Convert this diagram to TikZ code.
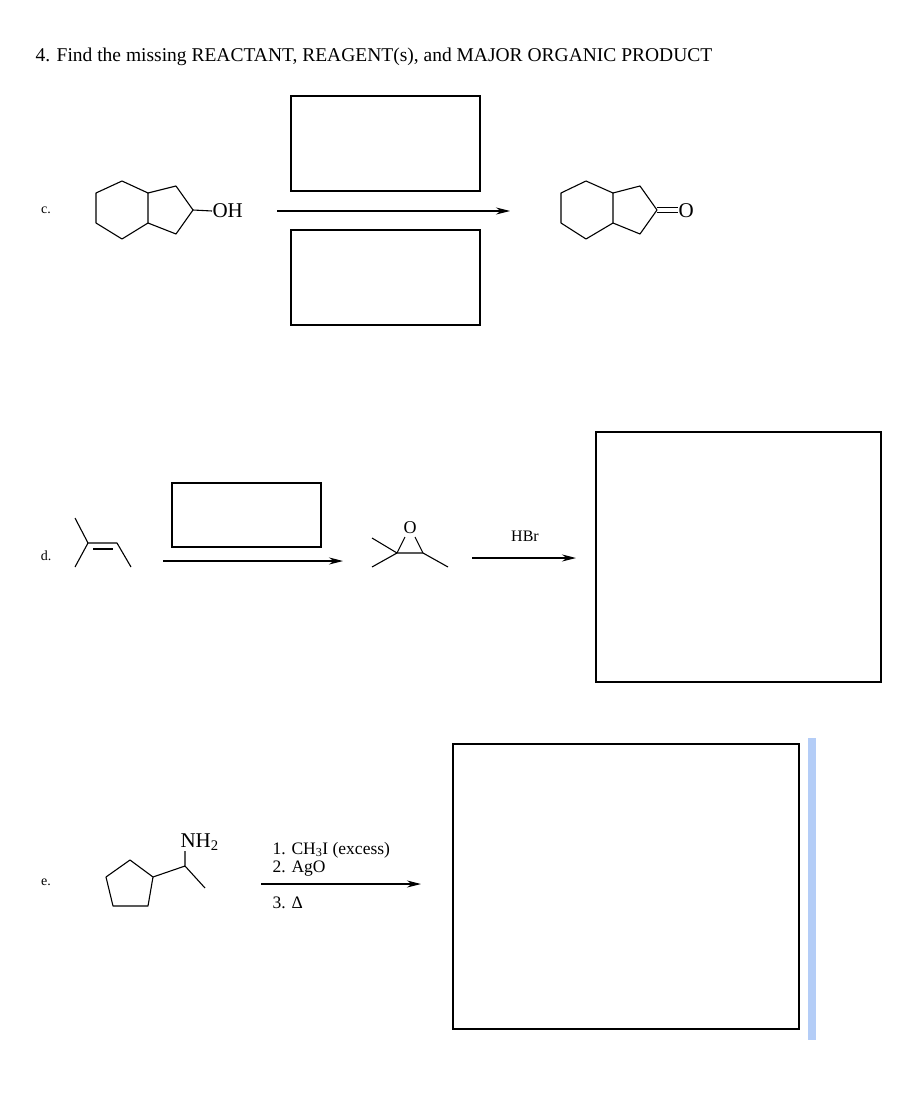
\documentclass[tikz,border=0pt]{standalone}
\usepackage{fontspec}
\setmainfont{Liberation Serif}
\usetikzlibrary{arrows.meta}
\begin{document}
\begin{tikzpicture}[x=1pt,y=-1pt,line width=1.1pt,
 bond/.style={line width=1.1pt,line join=round},
 rxn/.style={line width=1.1pt,-{Stealth[length=14pt,width=7pt]}},
 ansbox/.style={draw,line width=1.1pt},
 lab/.style={font=\fontsize{14}{16}\selectfont},
 atom/.style={font=\fontsize{21}{23}\selectfont,inner sep=0pt},
 reag/.style={font=\fontsize{17.5}{18}\selectfont,inner sep=0pt,anchor=west}]
\useasboundingbox (0,0) rectangle (910,1102);
\node[anchor=base west,inner sep=0pt,font=\fontsize{19.5}{22}\selectfont] (title) at (35,62) {4. Find the missing REACTANT, REAGENT(s), and MAJOR ORGANIC PRODUCT};
% c
\node[lab] (lc) at (46,210) {c.};
\draw[bond] (122,181)--(148,193)--(148,223)--(122,239)--(96,223)--(96,193)--cycle;
\draw[bond] (148,193)--(176,186)--(193,210)--(176,234)--(148,223);
\node[atom,anchor=west] (oh) at (212,211) {OH};
\draw[bond] (193,210)--(oh.west);
\node[ansbox,minimum width=189pt,minimum height=95pt] (bc1) at (385.5,143.5) {};
\node[ansbox,minimum width=189pt,minimum height=95pt] (bc2) at (385.5,277.5) {};
\coordinate (ac1) at (277,211); \coordinate (ac2) at (510,211);
\draw[rxn] (ac1)--(ac2);
\draw[bond] (586,181)--(613,193)--(613,223)--(586,239)--(561,223)--(561,193)--cycle;
\draw[bond] (613,193)--(640,186)--(657,210)--(640,234)--(613,223);
\node[atom,anchor=west] (o1) at (678,211) {O};
\draw[bond] (657,207.5)--(678,207.5) (657,212.5)--(678,212.5);
% d
\node[lab] (ld) at (46,556) {d.};
\draw[bond] (75,518)--(88,543)--(75,567) (88,543)--(117,543)--(131,567);
\draw[bond] (93,549)--(113,549);
\node[ansbox,minimum width=149pt,minimum height=64pt] (bd1) at (246.5,515) {};
\coordinate (ad1) at (163,561); \coordinate (ad2) at (343,561);
\draw[rxn] (ad1)--(ad2);
\node[atom,font=\fontsize{18}{20}\selectfont] (o2) at (410,528) {O};
\draw[bond] (372,538)--(397,553)--(372,567) (397,553)--(423,553)--(448,567);
\draw[bond] (397,553)--(405,537) (423,553)--(415,537);
\node[reag,anchor=center,font=\fontsize{16}{18}\selectfont] (hbr) at (525,536) {HBr};
\coordinate (ad3) at (472,558); \coordinate (ad4) at (576,558);
\draw[rxn] (ad3)--(ad4);
\node[ansbox,minimum width=285pt,minimum height=250pt] (bd2) at (738.5,557) {};
% e
\node[lab] (le) at (46,882) {e.};
\draw[bond] (130,860)--(153,877)--(148,906)--(113,906)--(106,877)--cycle;
\draw[bond] (153,877)--(185,866)--(205,888) (185,866)--(185,851);
\node[atom,anchor=west] (nh2) at (180,842) {NH\textsubscript{2}};
\node[reag] (r1) at (272,850) {1. CH\textsubscript{3}I (excess)};
\node[reag] (r2) at (272,869) {2. AgO};
\node[reag] (r3) at (272,903) {3. Δ};
\coordinate (ae1) at (261,884); \coordinate (ae2) at (421,884);
\draw[rxn] (ae1)--(ae2);
\node[ansbox,minimum width=346pt,minimum height=285pt] (be) at (626,886.5) {};
\fill[fill={rgb,255:red,180;green,205;blue,247}] (808,738) rectangle (816,1040);
\end{tikzpicture}
\end{document}
